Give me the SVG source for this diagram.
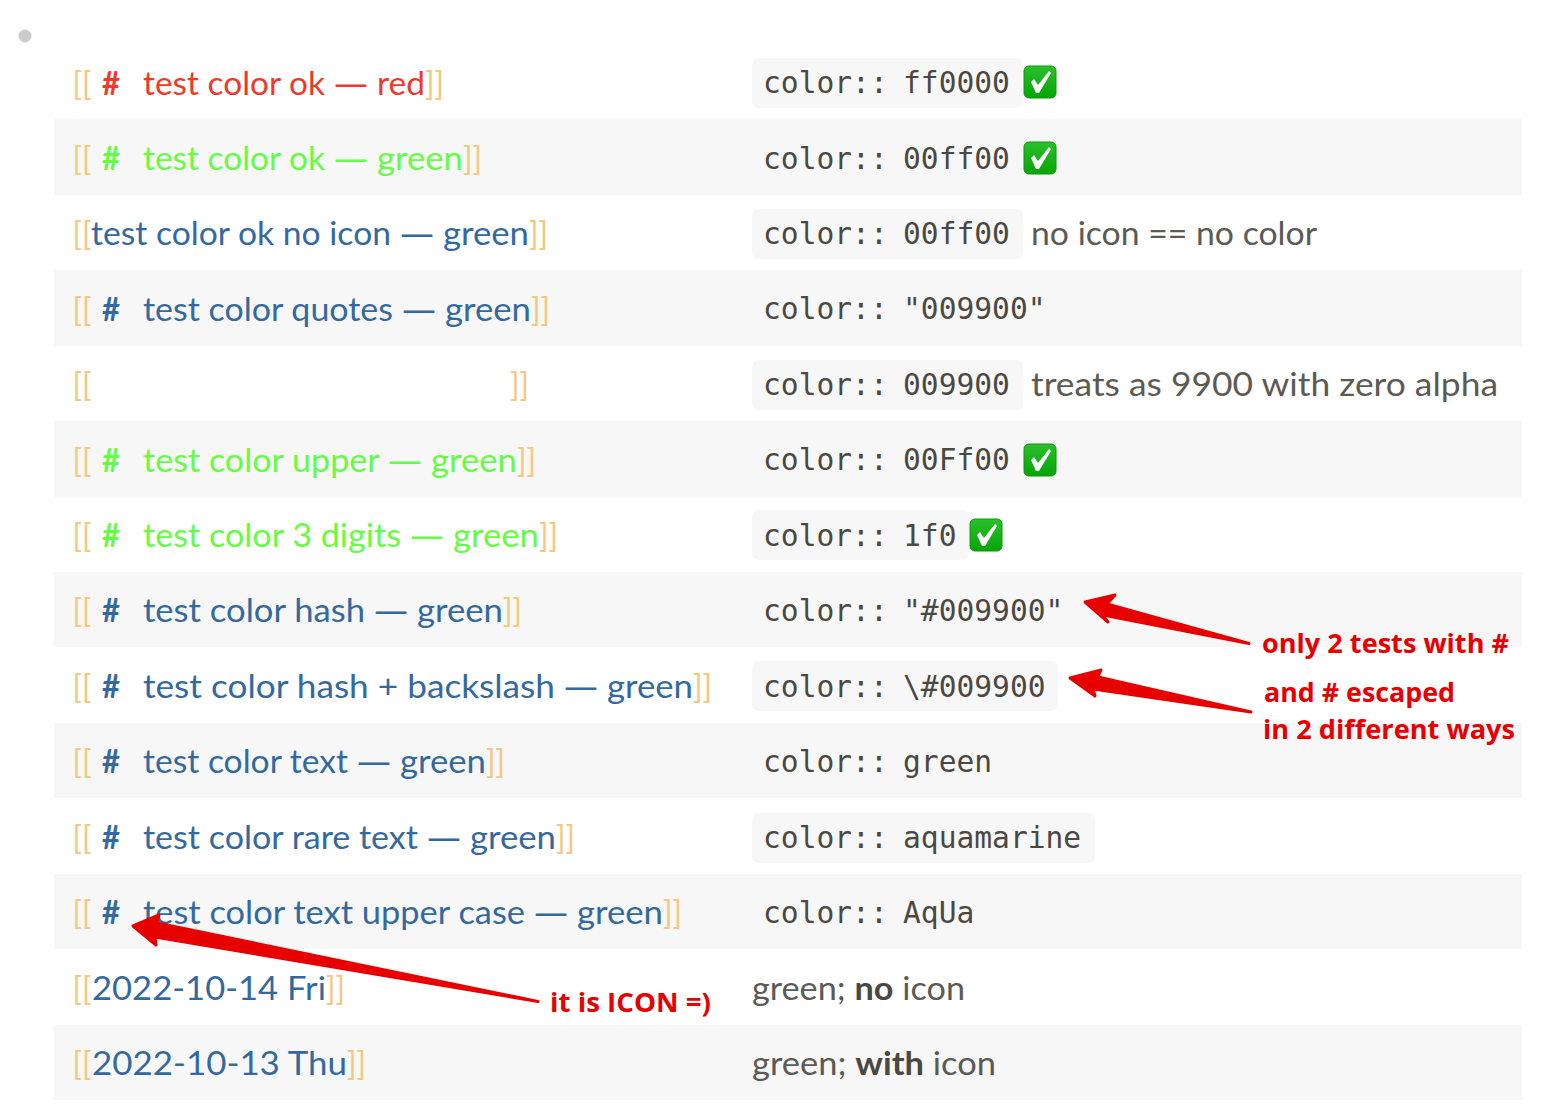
<svg xmlns="http://www.w3.org/2000/svg" width="1558" height="1104" viewBox="0 0 1558 1104">
<style>
.band{fill:#f7f7f7}
.code{fill:#f7f7f7}
text{font-family:"Lato","Noto Sans",sans-serif;font-size:33px}
.d{font-family:"DejaVu Sans",sans-serif;font-size:34px}
.b{fill:#f6c77f}
.blue{fill:#34699f}
.red{fill:#f0392b}
.green{fill:#66fc45}
.m{font-family:"DejaVu Sans Mono","Liberation Mono",monospace;font-size:29.6px;fill:#4b4841}
.p{fill:#5c5a54}
.bold{font-weight:700;fill:#4b4841}
.n{font-family:"Open Sans","Noto Sans",sans-serif;font-weight:700;font-size:27.5px;fill:#e60000}
.arrow{fill:#e60000;stroke:#e60000;stroke-width:3;stroke-linejoin:round}
.ic{font-weight:700}
</style>
<defs>
<linearGradient id="g" x1="0" y1="0" x2="0" y2="1"><stop offset="0" stop-color="#2cc02c"/><stop offset="1" stop-color="#06a406"/></linearGradient>
<g id="check"><rect x="1" y="1" width="32" height="32" rx="5" fill="url(#g)" stroke="#0a9a0a"/><path d="M8 17 L11 14 L15 20 L26 6 L28 8 L16 28 L13 28 Z" fill="#fff"/></g>
</defs>
<rect width="1558" height="1104" fill="#fff"/>
<circle cx="25" cy="36" r="6.5" fill="#ccc"/>
<g id="bands">
<rect class="band" x="54" y="119" width="1468" height="76"/>
<rect class="band" x="54" y="270" width="1468" height="76"/>
<rect class="band" x="54" y="421" width="1468" height="76"/>
<rect class="band" x="54" y="572" width="1468" height="75"/>
<rect class="band" x="54" y="723" width="1468" height="75"/>
<rect class="band" x="54" y="874" width="1468" height="75"/>
<rect class="band" x="54" y="1025" width="1468" height="75"/>
</g>
<g id="row1">
<text class="b" x="72.5" y="95" textLength="19" lengthAdjust="spacingAndGlyphs">[[</text><text class="red ic" x="102" y="95" textLength="18" lengthAdjust="spacingAndGlyphs">#</text><text class="red" y="95"><tspan x="143" textLength="182" lengthAdjust="spacingAndGlyphs">test color ok</tspan> <tspan class="d" x="334">—</tspan> <tspan x="377" textLength="48" lengthAdjust="spacingAndGlyphs">red</tspan></text><text class="b" x="425" y="95" textLength="19" lengthAdjust="spacingAndGlyphs">]]</text>
<rect class="code" x="752" y="58" width="271" height="50" rx="7"/><text class="m" x="763" y="93">color:: <tspan x="903">ff0000</tspan></text><use href="#check" x="1023" y="65"/>
</g>
<g id="row2">
<text class="b" x="72.5" y="170" textLength="19" lengthAdjust="spacingAndGlyphs">[[</text><text class="green ic" x="102" y="170" textLength="18" lengthAdjust="spacingAndGlyphs">#</text><text class="green" y="170"><tspan x="143" textLength="182" lengthAdjust="spacingAndGlyphs">test color ok</tspan> <tspan class="d" x="334">—</tspan> <tspan x="377" textLength="86" lengthAdjust="spacingAndGlyphs">green</tspan></text><text class="b" x="463" y="170" textLength="19" lengthAdjust="spacingAndGlyphs">]]</text>
<text class="m" x="763" y="169">color:: <tspan x="903">00ff00</tspan></text><use href="#check" x="1023" y="141"/>
</g>
<g id="row3">
<text class="b" x="72.5" y="245" textLength="19" lengthAdjust="spacingAndGlyphs">[[</text><text class="blue" y="245"><tspan x="91" textLength="300" lengthAdjust="spacingAndGlyphs">test color ok no icon</tspan> <tspan class="d" x="400">—</tspan> <tspan x="443" textLength="86" lengthAdjust="spacingAndGlyphs">green</tspan></text><text class="b" x="529" y="245" textLength="19" lengthAdjust="spacingAndGlyphs">]]</text>
<rect class="code" x="752" y="209" width="271" height="50" rx="7"/><text class="m" x="763" y="244">color:: <tspan x="903">00ff00</tspan></text><text class="p" x="1031" y="245" textLength="286" lengthAdjust="spacingAndGlyphs">no icon == no color</text>
</g>
<g id="row4">
<text class="b" x="72.5" y="321" textLength="19" lengthAdjust="spacingAndGlyphs">[[</text><text class="blue ic" x="102" y="321" textLength="18" lengthAdjust="spacingAndGlyphs">#</text><text class="blue" y="321"><tspan x="143" textLength="250" lengthAdjust="spacingAndGlyphs">test color quotes</tspan> <tspan class="d" x="402">—</tspan> <tspan x="445" textLength="86" lengthAdjust="spacingAndGlyphs">green</tspan></text><text class="b" x="531" y="321" textLength="19" lengthAdjust="spacingAndGlyphs">]]</text>
<text class="m" x="763" y="319">color:: <tspan x="903">"009900"</tspan></text>
</g>
<g id="row5">
<text class="b" x="72.5" y="396" textLength="19" lengthAdjust="spacingAndGlyphs">[[</text><text class="b" x="510" y="396" textLength="19" lengthAdjust="spacingAndGlyphs">]]</text>
<rect class="code" x="752" y="360" width="271" height="50" rx="7"/><text class="m" x="763" y="395">color:: <tspan x="903">009900</tspan></text><text class="p" x="1031" y="396" textLength="467" lengthAdjust="spacingAndGlyphs">treats as 9900 with zero alpha</text>
</g>
<g id="row6">
<text class="b" x="72.5" y="472" textLength="19" lengthAdjust="spacingAndGlyphs">[[</text><text class="green ic" x="102" y="472" textLength="18" lengthAdjust="spacingAndGlyphs">#</text><text class="green" y="472"><tspan x="143" textLength="236" lengthAdjust="spacingAndGlyphs">test color upper</tspan> <tspan class="d" x="388">—</tspan> <tspan x="431" textLength="86" lengthAdjust="spacingAndGlyphs">green</tspan></text><text class="b" x="517" y="472" textLength="19" lengthAdjust="spacingAndGlyphs">]]</text>
<text class="m" x="763" y="470">color:: <tspan x="903">00Ff00</tspan></text><use href="#check" x="1023" y="443"/>
</g>
<g id="row7">
<text class="b" x="72.5" y="547" textLength="19" lengthAdjust="spacingAndGlyphs">[[</text><text class="green ic" x="102" y="547" textLength="18" lengthAdjust="spacingAndGlyphs">#</text><text class="green" y="547"><tspan x="143" textLength="258" lengthAdjust="spacingAndGlyphs">test color 3 digits</tspan> <tspan class="d" x="410">—</tspan> <tspan x="453" textLength="86" lengthAdjust="spacingAndGlyphs">green</tspan></text><text class="b" x="539" y="547" textLength="19" lengthAdjust="spacingAndGlyphs">]]</text>
<rect class="code" x="752" y="510" width="217" height="50" rx="7"/><text class="m" x="763" y="546">color:: <tspan x="903">1f0</tspan></text><use href="#check" x="969" y="518"/>
</g>
<g id="row8">
<text class="b" x="72.5" y="622" textLength="19" lengthAdjust="spacingAndGlyphs">[[</text><text class="blue ic" x="102" y="622" textLength="18" lengthAdjust="spacingAndGlyphs">#</text><text class="blue" y="622"><tspan x="143" textLength="222" lengthAdjust="spacingAndGlyphs">test color hash</tspan> <tspan class="d" x="374">—</tspan> <tspan x="417" textLength="86" lengthAdjust="spacingAndGlyphs">green</tspan></text><text class="b" x="503" y="622" textLength="19" lengthAdjust="spacingAndGlyphs">]]</text>
<text class="m" x="763" y="621">color:: <tspan x="903">"#009900"</tspan></text>
</g>
<g id="row9">
<text class="b" x="72.5" y="698" textLength="19" lengthAdjust="spacingAndGlyphs">[[</text><text class="blue ic" x="102" y="698" textLength="18" lengthAdjust="spacingAndGlyphs">#</text><text class="blue" y="698"><tspan x="143" textLength="412" lengthAdjust="spacingAndGlyphs">test color hash + backslash</tspan> <tspan class="d" x="564">—</tspan> <tspan x="607" textLength="86" lengthAdjust="spacingAndGlyphs">green</tspan></text><text class="b" x="693" y="698" textLength="19" lengthAdjust="spacingAndGlyphs">]]</text>
<rect class="code" x="752" y="661" width="306" height="50" rx="7"/><text class="m" x="763" y="697">color:: <tspan x="903">\#009900</tspan></text>
</g>
<g id="row10">
<text class="b" x="72.5" y="773" textLength="19" lengthAdjust="spacingAndGlyphs">[[</text><text class="blue ic" x="102" y="773" textLength="18" lengthAdjust="spacingAndGlyphs">#</text><text class="blue" y="773"><tspan x="143" textLength="205" lengthAdjust="spacingAndGlyphs">test color text</tspan> <tspan class="d" x="357">—</tspan> <tspan x="400" textLength="86" lengthAdjust="spacingAndGlyphs">green</tspan></text><text class="b" x="486" y="773" textLength="19" lengthAdjust="spacingAndGlyphs">]]</text>
<text class="m" x="763" y="772">color:: <tspan x="903">green</tspan></text>
</g>
<g id="row11">
<text class="b" x="72.5" y="849" textLength="19" lengthAdjust="spacingAndGlyphs">[[</text><text class="blue ic" x="102" y="849" textLength="18" lengthAdjust="spacingAndGlyphs">#</text><text class="blue" y="849"><tspan x="143" textLength="275" lengthAdjust="spacingAndGlyphs">test color rare text</tspan> <tspan class="d" x="427">—</tspan> <tspan x="470" textLength="86" lengthAdjust="spacingAndGlyphs">green</tspan></text><text class="b" x="556" y="849" textLength="19" lengthAdjust="spacingAndGlyphs">]]</text>
<rect class="code" x="752" y="813" width="343" height="50" rx="7"/><text class="m" x="763" y="848">color:: <tspan x="903">aquamarine</tspan></text>
</g>
<g id="row12">
<text class="b" x="72.5" y="924" textLength="19" lengthAdjust="spacingAndGlyphs">[[</text><text class="blue ic" x="102" y="924" textLength="18" lengthAdjust="spacingAndGlyphs">#</text><text class="blue" y="924"><tspan x="143" textLength="382" lengthAdjust="spacingAndGlyphs">test color text upper case</tspan> <tspan class="d" x="534">—</tspan> <tspan x="577" textLength="86" lengthAdjust="spacingAndGlyphs">green</tspan></text><text class="b" x="663" y="924" textLength="19" lengthAdjust="spacingAndGlyphs">]]</text>
<text class="m" x="763" y="923">color:: <tspan x="903">AqUa</tspan></text>
</g>
<g id="row13">
<text class="b" x="72.5" y="1000" textLength="19" lengthAdjust="spacingAndGlyphs">[[</text><text class="blue" x="92" y="1000" textLength="234" lengthAdjust="spacingAndGlyphs">2022-10-14 Fri</text><text class="b" x="326" y="1000" textLength="19" lengthAdjust="spacingAndGlyphs">]]</text>
<text class="p" x="752" y="1000" textLength="213" lengthAdjust="spacingAndGlyphs">green; <tspan class="bold">no</tspan> icon</text>
</g>
<g id="row14">
<text class="b" x="72.5" y="1075" textLength="19" lengthAdjust="spacingAndGlyphs">[[</text><text class="blue" x="92" y="1075" textLength="255" lengthAdjust="spacingAndGlyphs">2022-10-13 Thu</text><text class="b" x="347" y="1075" textLength="19" lengthAdjust="spacingAndGlyphs">]]</text>
<text class="p" x="752" y="1075" textLength="244" lengthAdjust="spacingAndGlyphs">green; <tspan class="bold">with</tspan> icon</text>
</g>
<g id="connectors">
<path class="arrow" d="M1085 602 L1115 595 L1107 604 L1249 643.5 L1103 615 L1108 622 Z"/>
<path class="arrow" d="M1070 678 L1101 670 L1098 677 L1251 712 L1093 689 L1095 696 Z"/>
<path class="arrow" d="M133 926 L159 915 L157 923 L538 1001.5 L155 937 L156 945 Z"/>
</g>
<g id="notes">
<text class="n" x="1262" y="652.500" textLength="247" lengthAdjust="spacingAndGlyphs">only 2 tests with #</text>
<text class="n" x="1264" y="701.500" textLength="191" lengthAdjust="spacingAndGlyphs">and # escaped</text>
<text class="n" x="1263" y="738.500" textLength="252" lengthAdjust="spacingAndGlyphs">in 2 different ways</text>
<text class="n" x="550" y="1012" textLength="161" lengthAdjust="spacingAndGlyphs">it is ICON =)</text>
</g>
</svg>
